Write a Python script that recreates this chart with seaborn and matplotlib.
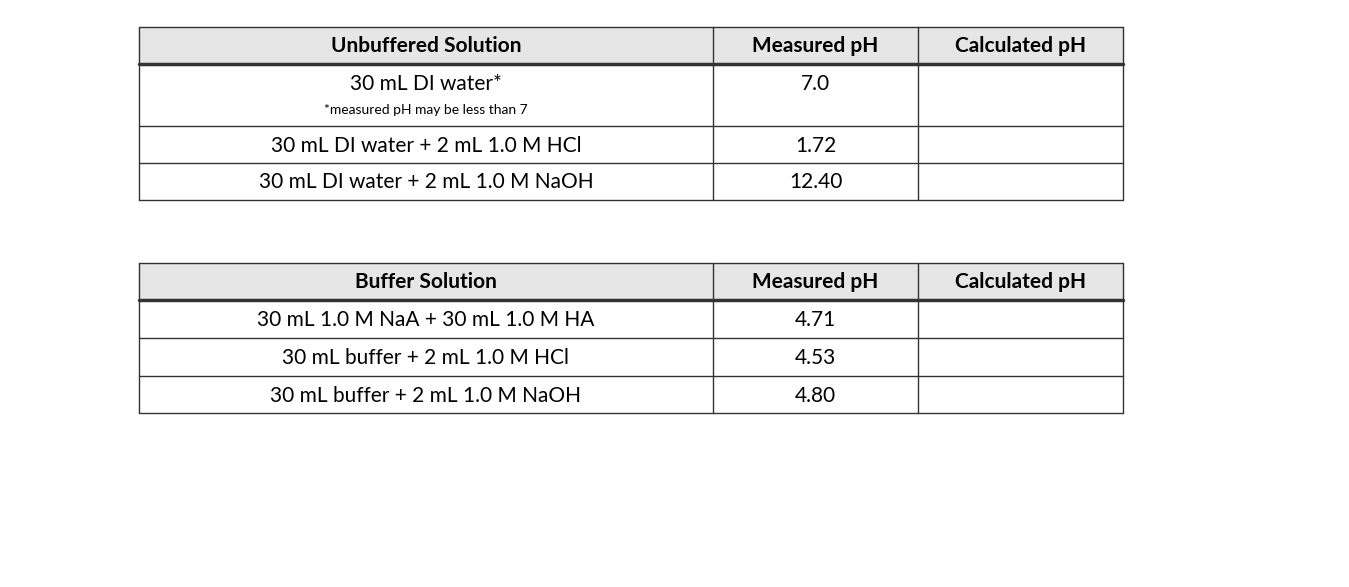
import matplotlib
matplotlib.use("Agg")
import matplotlib.pyplot as plt
import seaborn as sns

sns.set_theme(style="white")
plt.rcParams['font.family'] = ['Lato', 'DejaVu Sans']

headers1 = ["Unbuffered Solution", "Measured pH", "Calculated pH"]
rows1 = ["30 mL DI water*", "30 mL DI water + 2 mL 1.0 M HCl", "30 mL DI water + 2 mL 1.0 M NaOH"]
measured1 = ["7.0", "1.72", "12.40"]
note1 = "*measured pH may be less than 7"
headers2 = ["Buffer Solution", "Measured pH", "Calculated pH"]
rows2 = ["30 mL 1.0 M NaA + 30 mL 1.0 M HA", "30 mL buffer + 2 mL 1.0 M HCl", "30 mL buffer + 2 mL 1.0 M NaOH"]
measured2 = ["4.71", "4.53", "4.80"]

fig = plt.figure(figsize=(13.49, 5.87), dpi=100)
ax = fig.add_axes([0, 0, 1, 1])
ax.set_xlim(0, 1349)
ax.set_ylim(587, 0)
ax.axis("off")

xs = [139, 713, 918, 1123]
FS = 15

def draw_table(top, head_bot, row_bounds, headers, rows, meas, note=None):
    ax.fill_between([xs[0], xs[-1]], top, head_bot, color="#e6e6e6", zorder=0)
    ys = [top, head_bot] + row_bounds
    for y in ys:
        lw = 2.5 if y == head_bot else 1.0
        ax.plot([xs[0], xs[-1]], [y, y], color="#333333", lw=lw)
    for x in xs:
        ax.plot([x, x], [top, ys[-1]], color="#333333", lw=1.0)
    for i, h in enumerate(headers):
        ax.text((xs[i] + xs[i+1]) / 2, (top + head_bot) / 2 + 1, h, ha="center", va="center",
                fontsize=FS, fontweight="bold", color="black")
    for r in range(len(rows)):
        y0, y1 = ys[r+1], ys[r+2]
        if r == 0 and note:
            yt = y0 + 20
            ax.text((xs[0]+xs[1])/2, yt, rows[r], ha="center", va="center", fontsize=FS, color="black")
            ax.text((xs[0]+xs[1])/2, y0 + 46, note, ha="center", va="center", fontsize=10, color="black")
            ax.text((xs[1]+xs[2])/2, yt, meas[r], ha="center", va="center", fontsize=FS, color="black")
        else:
            ym = (y0 + y1) / 2 + 1
            ax.text((xs[0]+xs[1])/2, ym, rows[r], ha="center", va="center", fontsize=FS, color="black")
            ax.text((xs[1]+xs[2])/2, ym, meas[r], ha="center", va="center", fontsize=FS, color="black")

draw_table(27, 64, [126, 163, 200], headers1, rows1, measured1, note1)
draw_table(263, 300, [338, 376, 413], headers2, rows2, measured2)

fig.savefig("out.png", dpi=100, facecolor="white")
